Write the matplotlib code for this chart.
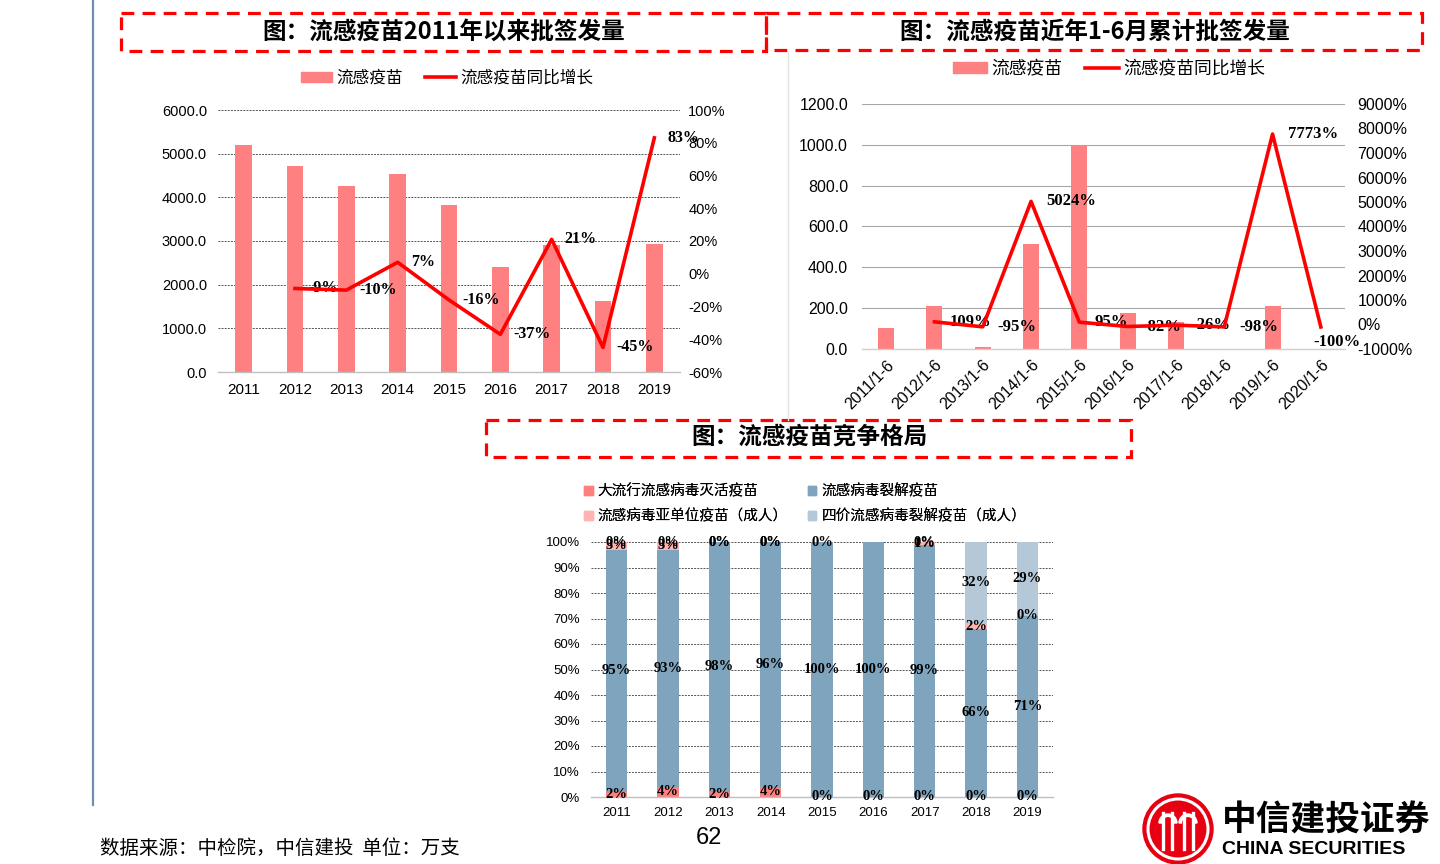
import matplotlib
matplotlib.use('Agg')
import matplotlib.pyplot as plt
import matplotlib.ticker as mt
from matplotlib.patches import Rectangle, Patch, Circle, Wedge
from matplotlib.lines import Line2D
import numpy as np

plt.rcParams['font.family'] = ['Liberation Sans', 'Noto Sans CJK SC', 'DejaVu Sans']

# ---------------- data ----------------
years1 = ['2011', '2012', '2013', '2014', '2015', '2016', '2017', '2018', '2019']
batch1 = [5200, 4720, 4250, 4540, 3820, 2410, 2910, 1620, 2940]
growth1 = [None, -9, -10, 7, -16, -37, 21, -45, 83]

periods2 = ['2011/1-6', '2012/1-6', '2013/1-6', '2014/1-6', '2015/1-6',
            '2016/1-6', '2017/1-6', '2018/1-6', '2019/1-6', '2020/1-6']
batch2 = [103, 209, 11, 514, 1001, 178, 134, 2, 213, 0]
growth2 = [None, 109, -95, 5024, 95, -82, -26, -98, 7773, -100]

years3 = ['2011', '2012', '2013', '2014', '2015', '2016', '2017', '2018', '2019']
pandemic_inact = [2, 4, 2, 4, 0, 0, 0, 0, 0]
split_vac = [95, 93, 98, 96, 100, 100, 99, 66, 71]
subunit_adult = [3, 3, 0, 0, 0, None, 1, 2, 0]
quad_split_adult = [0, 0, 0, 0, None, None, 0, 32, 29]

title1 = '图：流感疫苗2011年以来批签发量'
title2 = '图：流感疫苗近年1-6月累计批签发量'
title3 = '图：流感疫苗竞争格局'
leg_bar = '流感疫苗'
leg_line = '流感疫苗同比增长'
names3 = ['大流行流感病毒灭活疫苗', '流感病毒裂解疫苗', '流感病毒亚单位疫苗（成人）', '四价流感病毒裂解疫苗（成人）']
source_text = '数据来源：中检院，中信建投  单位：万支'
page_no = '62'

# ---------------- figure ----------------
W, H = 1440, 864
fig = plt.figure(figsize=(W / 100, H / 100), dpi=100)
fig.patch.set_facecolor('white')


def add_px(x0, y0, x1, y1):
    return fig.add_axes([x0 / W, 1 - y1 / H, (x1 - x0) / W, (y1 - y0) / H])


BAR = '#FF8080'
LINE = '#FF0000'
CJK = ['Noto Sans CJK SC', 'DejaVu Sans']
SERIF_B = dict(family=['Liberation Serif', 'DejaVu Serif'], weight='bold')


def clean(ax, bottom_color='#BFBFBF'):
    for s in ['top', 'left', 'right']:
        ax.spines[s].set_visible(False)
    ax.spines['bottom'].set_color(bottom_color)
    ax.spines['bottom'].set_linewidth(1.0)


# ---------------- chart 1 ----------------
ax1 = add_px(218, 110, 680, 372)
x1 = np.arange(len(years1))
ax1.bar(x1, batch1, width=0.32, color=BAR, zorder=2)
ax1.set_xlim(-0.5, len(years1) - 0.5)
ax1.set_ylim(0, 6000)
ax1.set_yticks(np.arange(0, 6001, 1000))
ax1.yaxis.set_major_formatter(mt.FuncFormatter(lambda v, p: f'{v:.1f}'))
ax1.set_xticks(x1, years1)
ax1.yaxis.grid(True, ls=(0, (2, 1.2)), color='#555555', lw=0.7)
ax1.set_axisbelow(True)
clean(ax1)
ax1.tick_params(axis='y', length=0, labelsize=10.5, pad=8)
ax1.tick_params(axis='x', length=0, labelsize=11, pad=8)
ax1b = ax1.twinx()
gx = [i for i, g in enumerate(growth1) if g is not None]
gy = [g for g in growth1 if g is not None]
ax1b.plot(gx, gy, color=LINE, lw=2.6, zorder=5)
ax1b.set_ylim(-60, 100)
ax1b.set_yticks(np.arange(-60, 101, 20))
ax1b.yaxis.set_major_formatter(mt.FuncFormatter(lambda v, p: f'{v:.0f}%'))
ax1b.tick_params(axis='y', length=0, labelsize=10.5, pad=6)
for s in ax1b.spines.values():
    s.set_visible(False)
for xi, yi in zip(gx, gy):
    ax1b.annotate(f'{yi}%', (xi, yi), xytext=(13, 0), textcoords='offset pixels',
                  ha='left', va='center', fontsize=11.5, **SERIF_B)

# ---------------- chart 2 ----------------
ax2 = add_px(862, 104, 1345, 349)
x2 = np.arange(len(periods2))
ax2.bar(x2, batch2, width=0.33, color=BAR, zorder=2)
ax2.set_xlim(-0.5, len(periods2) - 0.5)
ax2.set_ylim(0, 1200)
ax2.set_yticks(np.arange(0, 1201, 200))
ax2.yaxis.set_major_formatter(mt.FuncFormatter(lambda v, p: f'{v:.1f}'))
ax2.set_xticks(x2, periods2, rotation=45, ha='right', rotation_mode='anchor')
ax2.yaxis.grid(True, ls='-', color='#A6A6A6', lw=0.8)
ax2.set_axisbelow(True)
clean(ax2, '#D0D0D0')
ax2.tick_params(axis='y', length=0, labelsize=11.5, pad=10)
ax2.tick_params(axis='x', length=0, labelsize=11.5, pad=6)
ax2b = ax2.twinx()
gx2 = [i for i, g in enumerate(growth2) if g is not None]
gy2 = [g for g in growth2 if g is not None]
ax2b.plot(gx2, gy2, color=LINE, lw=2.6, zorder=5)
ax2b.set_ylim(-1000, 9000)
ax2b.set_yticks(np.arange(-1000, 9001, 1000))
ax2b.yaxis.set_major_formatter(mt.FuncFormatter(lambda v, p: f'{v:.0f}%'))
ax2b.tick_params(axis='y', length=0, labelsize=11.5, pad=9)
for s in ax2b.spines.values():
    s.set_visible(False)
for k, (xi, yi) in enumerate(zip(gx2, gy2)):
    off = (15, 0) if k < len(gx2) - 1 else (-7, -15)
    ax2b.annotate(f'{yi}%', (xi, yi), xytext=off, textcoords='offset pixels',
                  ha='left', va='center', fontsize=12, **SERIF_B)

# ---------------- chart 3 ----------------
ax3 = add_px(591, 542, 1053, 797)
x3 = np.arange(len(years3))
series3 = [pandemic_inact, split_vac, subunit_adult, quad_split_adult]
colors3 = ['#FF7F7F', '#7FA4BE', '#FFB3B3', '#B4C8D8']
bottom = np.zeros(len(years3))
handles3 = []
for vals, col, name in zip(series3, colors3, names3):
    v = np.array([0 if a is None else a for a in vals], dtype=float)
    ax3.bar(x3, v, bottom=bottom, width=0.42, color=col, zorder=2)
    for i, a in enumerate(vals):
        if a is not None:
            ax3.text(x3[i], bottom[i] + a / 2, f'{a}%', ha='center', va='center',
                     fontsize=10.5, zorder=6, **SERIF_B)
    bottom = bottom + v
    handles3.append(Patch(color=col, label=name))
ax3.set_xlim(-0.5, len(years3) - 0.5)
ax3.set_ylim(0, 100)
ax3.set_yticks(np.arange(0, 101, 10))
ax3.yaxis.set_major_formatter(mt.FuncFormatter(lambda v, p: f'{v:.0f}%'))
ax3.set_xticks(x3, years3)
ax3.yaxis.grid(True, ls=(0, (2, 1.2)), color='#555555', lw=0.7)
ax3.set_axisbelow(True)
clean(ax3)
ax3.tick_params(axis='y', length=0, labelsize=9.5, pad=8)
ax3.tick_params(axis='x', length=0, labelsize=9.5, pad=7)

# ---------------- overlay ----------------
bg = fig.add_axes([0, 0, 1, 1])
bg.set_xlim(0, W)
bg.set_ylim(H, 0)
bg.axis('off')
bg.patch.set_visible(False)

# left vertical rule
bg.plot([93, 93], [0, 805], color='#6F8FAF', lw=1.6)
# faint border of chart 2 area
bg.plot([788, 788], [52, 420], color='#E3E3E3', lw=1.0)

# dashed title boxes
for (x0, y0, x1_, y1_) in [(121, 13, 766, 51), (766, 13, 1422, 50), (486, 420, 1131, 457)]:
    bg.add_patch(Rectangle((x0, y0), x1_ - x0, y1_ - y0, fill=False, ec='#FF0000',
                           lw=2.3, ls=(0, (4, 2.6))))
bg.text(444, 32, title1, ha='center', va='center', fontsize=17, weight='bold', family=CJK)
bg.text(1095, 32, title2, ha='center', va='center', fontsize=17, weight='bold', family=CJK)
bg.text(809, 437, title3, ha='center', va='center', fontsize=17, weight='bold', family=CJK)

# legends for charts 1 and 2
leg_handles = [Patch(color=BAR, label=leg_bar), Line2D([], [], color=LINE, lw=2.6, label=leg_line)]
for cx, cy, fs in [(447, 78, 12), (1109, 69, 12.8)]:
    lg = bg.legend(handles=leg_handles, loc='center', bbox_to_anchor=(cx, cy),
                   bbox_transform=bg.transData, ncol=2, frameon=False,
                   prop=dict(family=CJK, size=fs), handlelength=1.9, handleheight=0.55,
                   handletextpad=0.25, columnspacing=1.3, borderaxespad=0)
    bg.add_artist(lg)

# legend for chart 3 (order so rows read: red, blue / pink, light blue)
h3 = [handles3[0], handles3[2], handles3[1], handles3[3]]
lg3 = bg.legend(handles=h3, loc='upper left', bbox_to_anchor=(578, 478),
                bbox_transform=bg.transData, ncol=2, frameon=False,
                prop=dict(family=CJK, size=10.5), handlelength=0.6, handleheight=0.6,
                handletextpad=0.35, columnspacing=1.35, labelspacing=0.75, borderaxespad=0)
bg.add_artist(lg3)

# footer
bg.text(100, 848, source_text, ha='left', va='center', fontsize=14, family=CJK)
bg.text(709, 838, page_no, ha='center', va='center', fontsize=17, family=['Liberation Sans'])

# logo
cxl, cyl = 1178, 829
bg.add_patch(Circle((cxl, cyl), 35, color='#E60012', zorder=3))
bg.add_patch(Circle((cxl, cyl), 30, fill=False, ec='white', lw=2.2, zorder=4))
for dx in [-15, -6, 6, 15]:
    bg.plot([cxl + dx, cxl + dx], [cyl - 16, cyl + 20], color='white', lw=2.4, zorder=5)
bg.add_patch(Wedge((cxl - 10, cyl - 6), 9, 180, 360, width=2.4, color='white', zorder=5))
bg.add_patch(Wedge((cxl + 10, cyl - 6), 9, 180, 360, width=2.4, color='white', zorder=5))
bg.text(1222, 820, '中信建投证券', ha='left', va='center', fontsize=25, weight='heavy', family=CJK)
bg.text(1222, 850, 'CHINA SECURITIES', ha='left', va='center', fontsize=14, weight='bold',
        family=['Liberation Sans'])

fig.savefig('out.png', dpi=100)
